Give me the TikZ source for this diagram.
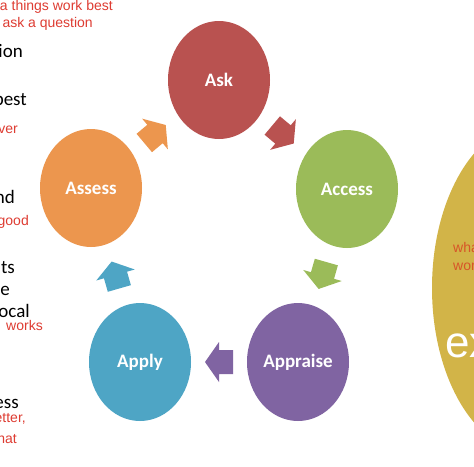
\documentclass[tikz,border=0pt]{standalone}
\usepackage{fontspec}
\setmainfont{Liberation Sans}
\newfontfamily\carl{Carlito}
\usetikzlibrary{shapes.geometric,calc}
\definecolor{askc}{RGB}{185,82,80}
\definecolor{accessc}{RGB}{155,187,89}
\definecolor{appraisec}{RGB}{128,100,162}
\definecolor{applyc}{RGB}{78,165,197}
\definecolor{assessc}{RGB}{236,150,78}
\definecolor{goldc}{RGB}{210,180,72}
\definecolor{redtxt}{RGB}{222,60,50}
\definecolor{orangetxt}{RGB}{215,85,40}
\tikzset{
  stage/.style={ellipse, minimum width=102pt, minimum height=118pt, inner sep=0pt,
    text=white, font=\carl\bfseries\fontsize{19}{22}\selectfont},
  blk/.style={font=\carl\fontsize{19}{22}\selectfont, text=black, inner sep=0pt},
  rtx/.style={font=\fontsize{14}{16}\selectfont, text=redtxt, inner sep=0pt},
}
\newcommand\cycarrow[3]{%
  \fill[#1, shift={#2}, rotate=#3] (-14,-12) -- (0,-12) -- (0,-20) -- (14,0) -- (0,20) -- (0,12) -- (-14,12) -- cycle;}
\begin{document}
\begin{tikzpicture}[x=1pt,y=-1pt]
\useasboundingbox (0,0) rectangle (474,466);
\clip (0,0) rectangle (474,466);
\fill[white] (0,0) rectangle (474,466);
% right gold ellipse
\node[ellipse, fill=goldc, minimum width=200pt, minimum height=330pt, inner sep=0pt] (gold) at (532,288) {};
\node[rtx, text=orangetxt, anchor=base west] (g1) at (453,252) {wha};
\node[rtx, text=orangetxt, anchor=base west] (g2) at (453,270) {wor};
\node[inner sep=0pt, text=white, font=\fontsize{44}{48}\selectfont, anchor=base west] (g3) at (445,357) {ex};
% stages
\node[stage, fill=askc] (ask) at (219,80) {Ask};
\node[stage, fill=accessc] (access) at (347,189) {Access};
\node[stage, fill=appraisec] (appraise) at (298,362) {Appraise};
\node[stage, fill=applyc] (apply) at (140,362) {Apply};
\node[stage, fill=assessc] (assess) at (91,188) {Assess};
% arrows
\cycarrow{assessc}{($(assess)!0.5!(ask)$)}{40}
\cycarrow{askc}{($(ask)!0.5!(access)$)}{-40}
\cycarrow{accessc}{($(access)!0.5!(appraise)$)}{-106}
\cycarrow{appraisec}{($(appraise)!0.5!(apply)$)}{180}
\cycarrow{applyc}{($(apply)!0.5!(assess)$)}{106}
% left text fragments
\node[rtx, anchor=base east] (t1) at (113,10) {a things work best};
\node[rtx, anchor=base east] (t2) at (93,27) {ask a question};
\node[blk, anchor=base east] (t3) at (23,57) {ion};
\node[blk, anchor=base east] (t4) at (27,105) {best};
\node[rtx, anchor=base east] (t5) at (18,133) {ver};
\node[blk, anchor=base east] (t6) at (15,203) {nd};
\node[rtx, anchor=base east] (t7) at (29,225) {good};
\node[blk, anchor=base east] (t8) at (15,273) {ts};
\node[blk, anchor=base east] (t9) at (10,295) {e};
\node[blk, anchor=base east] (t10) at (30,317) {ocal};
\node[rtx, anchor=base west] (t11) at (6,330) {works};
\node[blk, anchor=base east] (t12) at (19,408) {ess};
\node[rtx, anchor=base east] (t13) at (26,422) {etter,};
\node[rtx, anchor=base east] (t14) at (17,443) {hat};
\end{tikzpicture}
\end{document}
